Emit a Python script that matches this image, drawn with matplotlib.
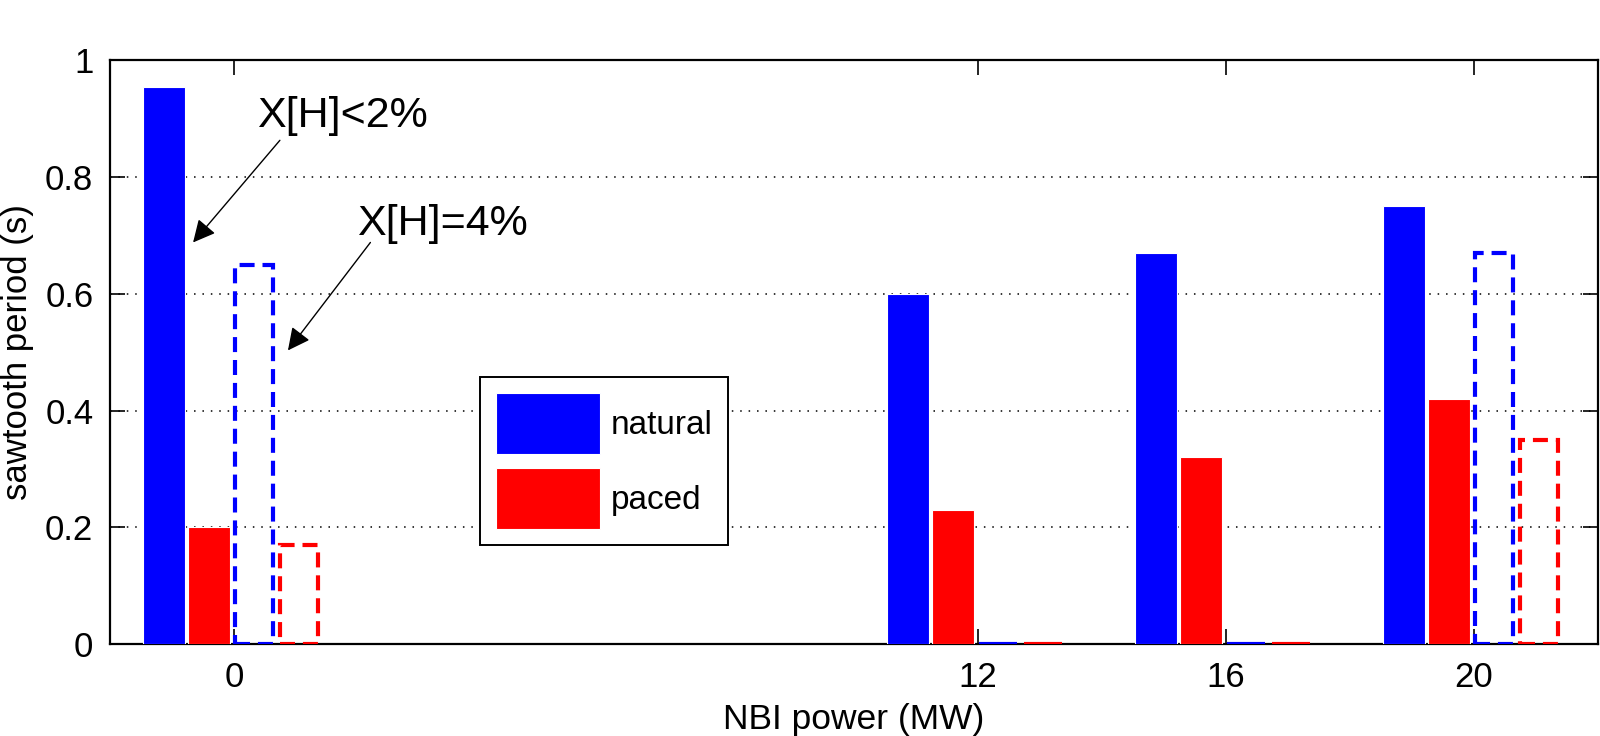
import matplotlib
matplotlib.use("Agg")
import matplotlib.pyplot as plt
import numpy as np

# NBI power groups (MW) and sawtooth periods (s)
nbi_power = [0, 12, 16, 20]
natural_low_h = [0.955, 0.60, 0.67, 0.75]  # X[H]<2%
paced_low_h = [0.20, 0.23, 0.32, 0.42]
natural_4pct = [0.65, 0.0, 0.0, 0.67]      # X[H]=4%
paced_4pct = [0.17, 0.0, 0.0, 0.35]

y_ticks = [0, 0.2, 0.4, 0.6, 0.8, 1]
y_tick_labels = ["0", "0.2", "0.4", "0.6", "0.8", "1"]

plt.rcParams["font.family"] = ["Liberation Sans", "DejaVu Sans"]

fig = plt.figure(figsize=(16, 7.36), dpi=100)
ax = fig.add_axes([0.06875, 0.125, 0.93, 0.793])

x = np.array(nbi_power, dtype=float)
slot = 0.727
width = 0.69
offsets = np.array([-1.5, -0.5, 0.5, 1.5]) * slot - 0.04

ax.bar(x + offsets[0], natural_low_h, width, color="#0000ff", edgecolor="white",
       linewidth=0.8, label="natural", zorder=3)
ax.bar(x + offsets[1], paced_low_h, width, color="#ff0000", edgecolor="white",
       linewidth=0.8, label="paced", zorder=3)
dash = (0, (3.6, 1.9))
for off, vals, col in [(offsets[2], natural_4pct, "#0000ff"),
                       (offsets[3], paced_4pct, "#ff0000")]:
    bars = ax.bar(x + off, vals, width * 0.9, facecolor="none", edgecolor=col,
                  linewidth=3.0, linestyle=dash, zorder=3)
    for p in bars:
        if p.get_height() == 0:
            p.set_linestyle("-")

ax.set_xlim(-2, 22)
ax.set_ylim(0, 1)
ax.set_xticks(nbi_power)
ax.set_xticklabels([str(v) for v in nbi_power])
ax.set_yticks(y_ticks)
ax.set_yticklabels(y_tick_labels)
ax.tick_params(axis="both", direction="in", length=11, width=1.2,
               top=True, right=True, labelsize=25, pad=12)
ax.set_axisbelow(True)
ax.yaxis.grid(True, color="black", linestyle=(0, (1, 4.5)), linewidth=1.1)
for s in ax.spines.values():
    s.set_linewidth(1.6)

ax.set_xlabel("NBI power (MW)", fontsize=25.5, labelpad=7)
ax.set_ylabel("sawtooth period (s)", fontsize=25, labelpad=8)

ax.text(0.37, 0.905, "X[H]<2%", fontsize=31, va="center", ha="left")
ax.annotate("", xy=(-0.66, 0.688), xytext=(0.74, 0.863),
            arrowprops=dict(arrowstyle="-|>", color="black", lw=1.0,
                            mutation_scale=34, shrinkA=0, shrinkB=0))
ax.text(1.98, 0.72, "X[H]=4%", fontsize=31, va="center", ha="left")
ax.annotate("", xy=(0.87, 0.503), xytext=(2.2, 0.688),
            arrowprops=dict(arrowstyle="-|>", color="black", lw=1.0,
                            mutation_scale=34, shrinkA=0, shrinkB=0))

leg = ax.legend(loc="upper left", bbox_to_anchor=(0.2487, 0.457), fontsize=24,
                handlelength=3.12, handleheight=2.44, labelspacing=0.42,
                borderpad=0.47, handletextpad=0.33, fancybox=False,
                framealpha=1, edgecolor="black", borderaxespad=0)
leg.get_frame().set_linewidth(1.4)

fig.savefig("out.png", dpi=100)
